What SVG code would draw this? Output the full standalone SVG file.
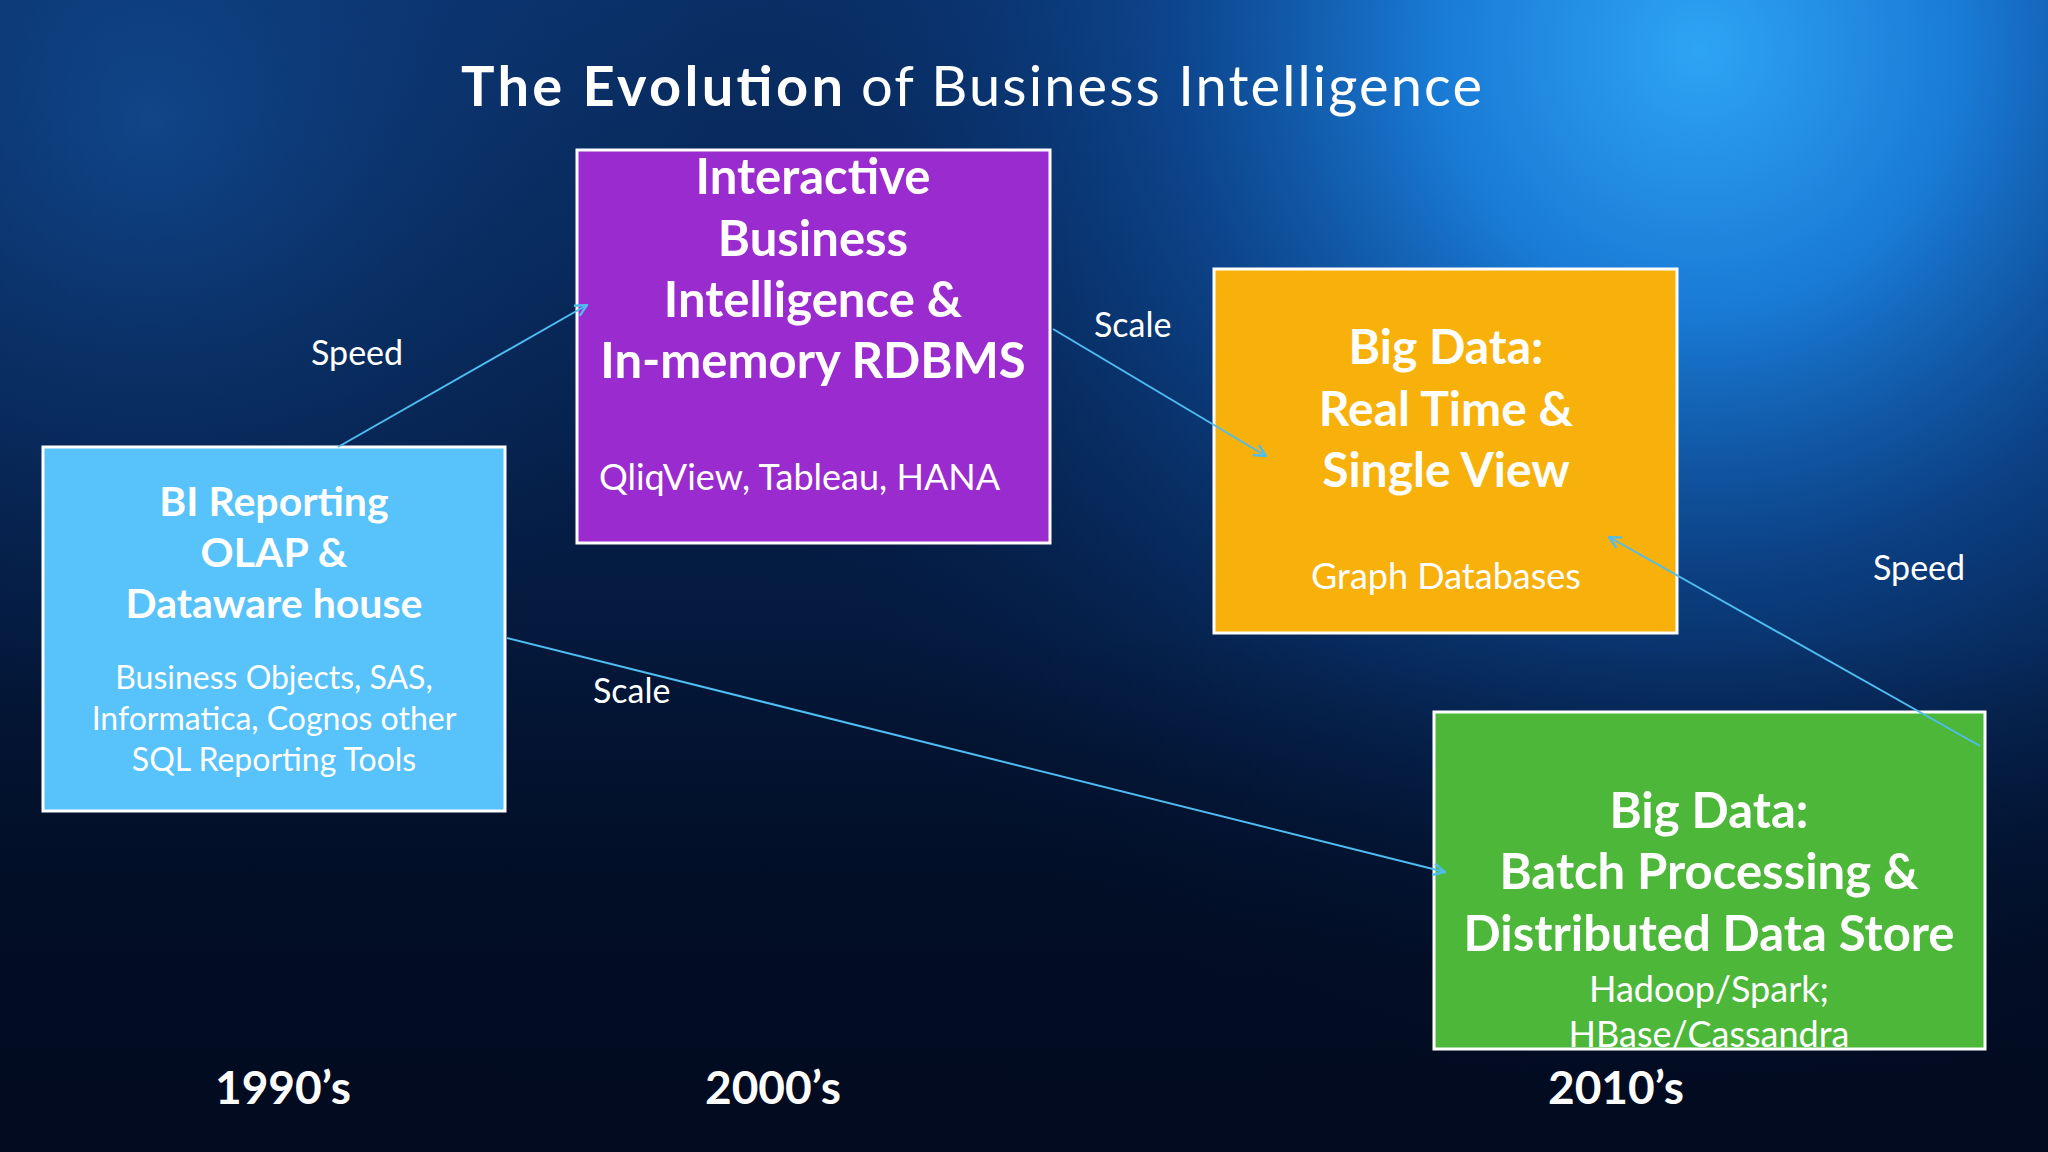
<svg xmlns="http://www.w3.org/2000/svg" width="2048" height="1152" viewBox="0 0 2048 1152">
  <defs>
    <linearGradient id="bgBase" x1="0" y1="0" x2="0" y2="1">
      <stop offset="0" stop-color="#0a3068"/>
      <stop offset="0.45" stop-color="#051d45"/>
      <stop offset="0.75" stop-color="#02112c"/>
      <stop offset="1" stop-color="#020b20"/>
    </linearGradient>
    <radialGradient id="glowTR" cx="1700" cy="50" r="1050" gradientUnits="userSpaceOnUse">
      <stop offset="0" stop-color="#2ea4f5" stop-opacity="1"/>
      <stop offset="0.25" stop-color="#1a7fdc" stop-opacity="0.95"/>
      <stop offset="0.5" stop-color="#0e4f9e" stop-opacity="0.7"/>
      <stop offset="0.8" stop-color="#082e66" stop-opacity="0.3"/>
      <stop offset="1" stop-color="#051d45" stop-opacity="0"/>
    </radialGradient>
    <radialGradient id="glowTL" cx="150" cy="120" r="600" gradientUnits="userSpaceOnUse">
      <stop offset="0" stop-color="#13509a" stop-opacity="0.7"/>
      <stop offset="1" stop-color="#0a3068" stop-opacity="0"/>
    </radialGradient>
    <linearGradient id="darkBottom" x1="0" y1="0" x2="0" y2="1">
      <stop offset="0.55" stop-color="#020b20" stop-opacity="0"/>
      <stop offset="1" stop-color="#020b20" stop-opacity="0.85"/>
    </linearGradient>
    <marker id="arrow" viewBox="0 0 12 12" refX="11" refY="6" markerWidth="14" markerHeight="14" markerUnits="userSpaceOnUse" orient="auto">
      <path d="M1,1 L11,6 L1,11" fill="none" stroke="#4fbdf0" stroke-width="2"/>
    </marker>
  </defs>
  <style>
    text { font-family: Lato, "Open Sans", "Liberation Sans", sans-serif; fill: #ffffff; }
    .box { stroke: #ffffff; stroke-width: 3; }
    .h { font-weight: 700; text-anchor: middle; }
    .s { font-weight: 400; text-anchor: middle; }
    .lbl { font-weight: 400; font-size: 34px; }
    .yr { font-weight: 700; font-size: 46px; text-anchor: middle; }
    .conn { stroke: #4fbdf0; stroke-width: 2; fill: none; marker-end: url(#arrow); }
  </style>

  <!-- background -->
  <rect x="0" y="0" width="2048" height="1152" fill="url(#bgBase)"/>
  <rect x="0" y="0" width="2048" height="1152" fill="url(#glowTL)"/>
  <rect x="0" y="0" width="2048" height="1152" fill="url(#glowTR)"/>
  <rect x="0" y="0" width="2048" height="1152" fill="url(#darkBottom)"/>

  <!-- title -->
  <text id="title" x="461" y="106" font-size="56"><tspan font-weight="700" textLength="382">The Evolution</tspan><tspan x="861" font-weight="400" textLength="621">of Business Intelligence</tspan></text>

  <!-- nodes -->
  <g id="node-bi-reporting">
    <rect class="box" x="43" y="447" width="462" height="364" fill="#58c2fb"/>
    <text class="h" x="274" y="516" font-size="41">BI Reporting</text>
    <text class="h" x="274" y="567" font-size="41">OLAP &amp;</text>
    <text class="h" x="274" y="618" font-size="41">Dataware house</text>
    <text class="s" x="274" y="689" font-size="32">Business Objects, SAS,</text>
    <text class="s" x="274" y="730" font-size="32">Informatica, Cognos other</text>
    <text class="s" x="274" y="771" font-size="32">SQL Reporting Tools</text>
  </g>

  <g id="node-interactive-bi">
    <rect class="box" x="577" y="150" width="473" height="393" fill="#9a2bce"/>
    <text class="h" x="813" y="194" font-size="49">Interactive</text>
    <text class="h" x="813" y="256" font-size="49">Business</text>
    <text class="h" x="813" y="317" font-size="49">Intelligence &amp;</text>
    <text class="h" x="813" y="378" font-size="49">In-memory RDBMS</text>
    <text x="599" y="490" font-size="36">QliqView, Tableau, HANA</text>
  </g>

  <g id="node-realtime">
    <rect class="box" x="1214" y="269" width="463" height="364" fill="#f8b00a"/>
    <text class="h" x="1446" y="364" font-size="48">Big Data:</text>
    <text class="h" x="1446" y="426" font-size="48">Real Time &amp;</text>
    <text class="h" x="1446" y="487" font-size="48">Single View</text>
    <text class="s" x="1446" y="589" font-size="36">Graph Databases</text>
  </g>

  <g id="node-batch">
    <rect class="box" x="1434" y="712" width="551" height="337" fill="#4db73a"/>
    <text class="h" x="1709" y="828" font-size="49">Big Data:</text>
    <text class="h" x="1709" y="889" font-size="49">Batch Processing &amp;</text>
    <text class="h" x="1709" y="951" font-size="49">Distributed Data Store</text>
    <text class="s" x="1709" y="1002" font-size="36">Hadoop/Spark;</text>
    <text class="s" x="1709" y="1047" font-size="36">HBase/Cassandra</text>
  </g>

  <!-- connectors -->
  <g id="connectors">
    <line class="conn" x1="338" y1="447" x2="587" y2="305"/>
    <line class="conn" x1="1053" y1="329" x2="1266" y2="456"/>
    <line class="conn" x1="507" y1="638" x2="1445" y2="872"/>
    <line class="conn" x1="1980" y1="746" x2="1609" y2="537"/>
  </g>

  <!-- connector labels -->
  <g id="labels">
    <text class="lbl" x="311" y="365">Speed</text>
    <text class="lbl" x="1094" y="337">Scale</text>
    <text class="lbl" x="593" y="703">Scale</text>
    <text class="lbl" x="1873" y="580">Speed</text>
  </g>

  <!-- timeline -->
  <g id="timeline">
    <text class="yr" x="283" y="1104">1990’s</text>
    <text class="yr" x="773" y="1104">2000’s</text>
    <text class="yr" x="1616" y="1104">2010’s</text>
  </g>
</svg>
